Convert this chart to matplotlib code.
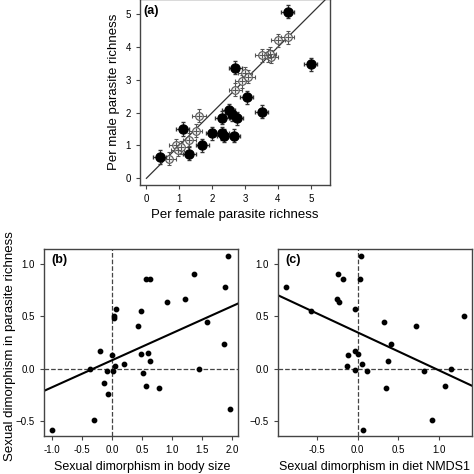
import matplotlib.pyplot as plt
import numpy as np

# panel (a): per-host parasite richness, females vs males
filled_f = [0.4, 1.1, 1.3, 1.7, 2.0, 2.3, 2.3, 2.35, 2.5, 2.6, 2.65, 2.7, 2.75, 3.05, 3.5, 4.3, 5.0]
filled_m = [0.65, 1.5, 0.75, 1.0, 1.37, 1.85, 1.37, 1.3, 2.07, 1.95, 1.3, 3.37, 1.83, 2.47, 2.03, 5.07, 3.47]
open_f = [0.7, 0.9, 0.95, 1.05, 1.3, 1.5, 1.6, 2.7, 2.9, 3.0, 3.1, 3.5, 3.7, 3.8, 4.0, 4.3, 3.75]
open_m = [0.6, 1.0, 0.87, 0.95, 1.18, 1.45, 1.9, 2.7, 2.95, 3.2, 3.1, 3.75, 3.75, 3.7, 4.2, 4.3, 3.8]

# panel (b)
b_x = [-1.0, -0.29, -0.37, -0.2, -0.14, -0.08, -0.06, 0.0, 0.01, 0.03, 0.04, 0.07, 0.05, 0.2,
       0.43, 0.48, 0.48, 0.51, 0.56, 0.64, 0.6, 0.63, 0.57, 0.78, 0.92, 1.21, 1.37, 1.45, 1.59,
       1.86, 1.88, 1.93, 1.97]
b_y = [-0.58, -0.49, 0.0, 0.17, -0.14, -0.02, -0.24, 0.13, -0.02, 0.5, 0.48, 0.57, 0.03, 0.05,
       0.41, 0.55, 0.14, -0.04, 0.85, 0.85, 0.15, 0.07, -0.16, -0.18, 0.63, 0.66, 0.9, 0.0, 0.44,
       0.24, 0.78, 1.07, -0.38]
b_fit = ([-1.13, 2.1], [-0.21, 0.62])

# panel (c)
c_x = [-0.89, -0.58, -0.24, -0.18, -0.26, -0.23, -0.04, -0.12, -0.13, -0.03, 0.0, -0.04, 0.05,
       0.04, 0.03, 0.06, 0.12, 0.32, 0.35, 0.37, 0.41, 0.72, 0.82, 0.92, 1.08, 1.15, 1.32]
c_y = [0.78, 0.55, 0.9, 0.85, 0.66, 0.63, 0.57, 0.13, 0.03, 0.17, 0.14, -0.01, 0.05, 1.07, 0.85,
       -0.58, -0.02, 0.44, -0.18, 0.07, 0.24, 0.41, -0.02, -0.49, -0.16, 0.0, 0.5]
c_fit = ([-0.99, 1.41], [0.70, -0.16])

plt.rcParams["font.family"] = ["Liberation Sans", "DejaVu Sans"]
fig = plt.figure(figsize=(4.74, 4.74), dpi=100)


def style(ax):
    ax.tick_params(labelsize=7, length=3, width=0.8, color="#444444")
    for s in ax.spines.values():
        s.set_linewidth(1.0)
        s.set_color("#444444")


ax = fig.add_axes([0.295, 0.61, 0.401, 0.392])
ax.plot([0, 5.6], [0, 5.6], color="#333333", lw=0.9)
ax.errorbar(open_f, open_m, xerr=0.2, yerr=0.2, fmt="o", ms=5.5, mfc="#e8e8e8",
            mec="#555555", mew=0.8, ecolor="#555555", elinewidth=0.8, capsize=1.5)
ax.scatter(open_f, open_m, marker="+", s=25, color="#555555", lw=0.7, zorder=4)
ax.errorbar(filled_f, filled_m, xerr=0.2, yerr=0.2, fmt="o", ms=6.5, color="black",
            ecolor="#333333", elinewidth=0.8, capsize=1.5, zorder=5)
ax.set_xlim(-0.2, 5.58)
ax.set_ylim(-0.2, 5.46)
ax.set_xticks(range(6))
ax.set_yticks(range(6))
ax.set_xlabel("Per female parasite richness", fontsize=9.5)
ax.set_ylabel("Per male parasite richness", fontsize=9.5)
ax.text(0.02, 0.97, "(a)", transform=ax.transAxes, fontsize=9, fontweight="bold", va="top")
style(ax)

for left, xs, ys, fit, xlim, xt, lab in [
    (0.093, b_x, b_y, b_fit, (-1.13, 2.1), [-1.0, -0.5, 0.0, 0.5, 1.0, 1.5, 2.0], "(b)"),
    (0.586, c_x, c_y, c_fit, (-0.99, 1.41), [-0.5, 0.0, 0.5, 1.0], "(c)"),
]:
    ax = fig.add_axes([left, 0.08, 0.409, 0.395])
    ax.axhline(0, color="#444444", ls="--", lw=0.9)
    ax.axvline(0, color="#444444", ls="--", lw=0.9)
    ax.plot(fit[0], fit[1], color="black", lw=1.5)
    ax.scatter(xs, ys, s=10, color="black", zorder=5)
    ax.set_xlim(*xlim)
    ax.set_ylim(-0.64, 1.14)
    ax.set_xticks(xt)
    ax.set_xticklabels([f"{v:.1f}" for v in xt])
    ax.set_yticks([-0.5, 0.0, 0.5, 1.0])
    ax.text(0.04, 0.97, lab, transform=ax.transAxes, fontsize=9, fontweight="bold", va="top")
    style(ax)

fig.text(0.022, 0.27, "Sexual dimorphism in parasite richness", rotation=90,
         fontsize=9.5, ha="center", va="center")
fig.text(0.30, 0.002, "Sexual dimorphism in body size", fontsize=9, ha="center", va="bottom")
fig.text(0.79, 0.002, "Sexual dimorphism in diet NMDS1", fontsize=9, ha="center", va="bottom")

fig.savefig("out.png", dpi=100)
